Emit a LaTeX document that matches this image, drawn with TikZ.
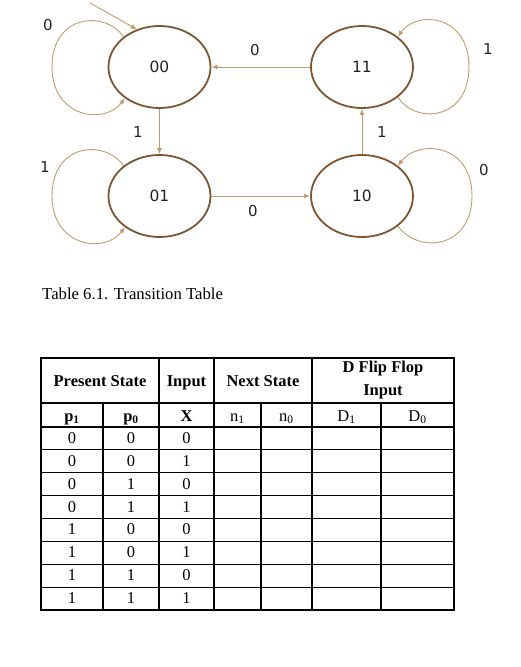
\documentclass[tikz,border=0pt]{standalone}
\usepackage{fontspec}
\setmainfont{Liberation Serif}
\newfontfamily\diagfont{DejaVu Sans}
\usetikzlibrary{shapes.geometric,arrows.meta}
\definecolor{stbrown}{HTML}{7D5533}
\definecolor{edgetan}{HTML}{C39A6B}
\definecolor{txtgrey}{HTML}{222222}
\begin{document}
\begin{tikzpicture}[x=1pt,y=-1pt,
  st/.style={ellipse,draw=stbrown,line width=1.8pt,minimum width=102pt,minimum height=82pt,inner sep=0pt,text=txtgrey,font=\diagfont\fontsize{15.5}{18}\selectfont},
  tr/.style={draw=edgetan,line width=0.9pt,-{Latex[length=6pt,width=5pt]}},
  lab/.style={text=txtgrey,font=\diagfont\fontsize{15}{17}\selectfont},
  hd/.style={font=\bfseries\fontsize{16.5}{23}\selectfont,align=center},
  hds/.style={hd,text height=11.5pt,text depth=3.5pt},
  cell/.style={font=\fontsize{16.5}{19}\selectfont,anchor=base,inner sep=0pt},
  grid/.style={draw=black,line width=1.1pt}]
\useasboundingbox (0,0) rectangle (520,667);

% ---- state diagram ----
\node[st] (s00) at (159.5,67) {00};
\node[st] (s11) at (362,67) {11};
\node[st] (s01) at (159.5,196) {01};
\node[st] (s10) at (362,196) {10};

\coordinate (init) at (90,3);
\draw[tr] (init) -- (s00.121);

\draw[tr] (s00) -- (s01);
\draw[tr] (s01) -- (s10);
\draw[tr] (s10) -- (s11);
\draw[tr] (s11) -- (s00);

\draw[tr] (s00.140) .. controls (105,10) and (52,14) .. (52,67) .. controls (52,118) and (105,125) .. (s00.222);
\draw[tr] (s11.320) .. controls (416,125) and (469,120) .. (469,67) .. controls (469,14) and (416,10) .. (s11.40);
\draw[tr] (s01.140) .. controls (105,139) and (52,143) .. (52,196) .. controls (52,247) and (105,254) .. (s01.222);
\draw[tr] (s10.320) .. controls (418,254) and (472,249) .. (472,196) .. controls (472,143) and (418,139) .. (s10.40);

\node[lab] (l1) at (48,25) {0};
\node[lab] (l2) at (138,132) {1};
\node[lab] (l3) at (45,167) {1};
\node[lab] (l4) at (255,50) {0};
\node[lab] (l5) at (488,49) {1};
\node[lab] (l6) at (382,132) {1};
\node[lab] (l7) at (484,170) {0};
\node[lab] (l8) at (253,211) {0};

% ---- caption ----
\node[font=\fontsize{16.7}{19}\selectfont,anchor=base west,inner sep=0pt] (cap) at (42,299) {Table 6.1. Transition Table};

% ---- table grid ----
\draw[grid] (41,358) rectangle (454,610);
\foreach \yy in {403,427} \draw[grid] (41,\yy) -- (454,\yy);
\foreach \k in {1,...,7} \draw[grid] (41,{427+22.875*\k}) -- (454,{427+22.875*\k});
\foreach \xx in {159,214,312} \draw[grid] (\xx,358) -- (\xx,610);
\foreach \xx in {103,261,381} \draw[grid] (\xx,403) -- (\xx,610);

% ---- header ----
\node[hds] (hPS) at (100,382) {Present State};
\node[hds] (hIn) at (186.5,382) {Input};
\node[hds] (hNS) at (263,382) {Next State};
\node[hd] (hDF) at (383,380) {D Flip Flop\\Input};

\node[cell] (cp1) at (72,421) {\textbf{p}\textsubscript{\textbf{1}}};
\node[cell] (cp0) at (131,421) {\textbf{p}\textsubscript{\textbf{0}}};
\node[cell] (cx) at (186.5,421) {\textbf{X}};
\node[cell] (cn1) at (237.5,421) {n\textsubscript{1}};
\node[cell] (cn0) at (286.5,421) {n\textsubscript{0}};
\node[cell] (cd1) at (346.5,421) {D\textsubscript{1}};
\node[cell] (cd0) at (417.5,421) {D\textsubscript{0}};

% ---- data rows ----
\foreach \a/\b/\c [count=\k from 0] in {0/0/0,0/0/1,0/1/0,0/1/1,1/0/0,1/0/1,1/1/0,1/1/1}{
  \node[cell] (ra\k) at (72,{427+22.875*(\k+0.5)+5}) {\a};
  \node[cell] (rb\k) at (131,{427+22.875*(\k+0.5)+5}) {\b};
  \node[cell] (rc\k) at (186.5,{427+22.875*(\k+0.5)+5}) {\c};
}
\end{tikzpicture}
\end{document}
